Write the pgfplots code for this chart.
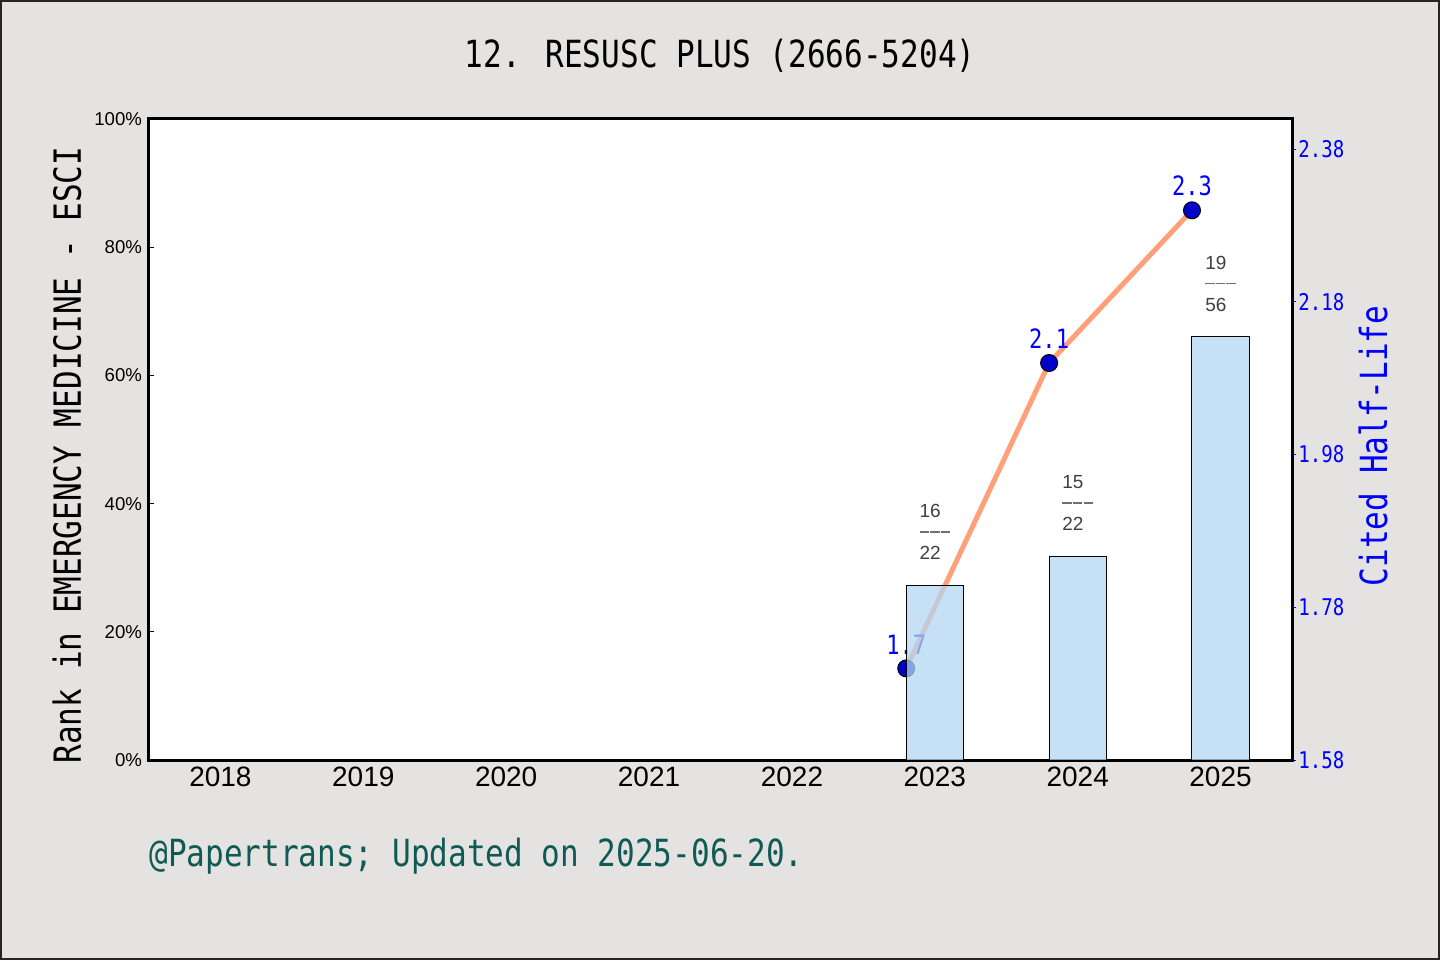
\documentclass[border=0pt]{standalone}
\usepackage{pgfplots}
\pgfplotsset{compat=1.18}
\usepackage{fontspec}
\setmainfont{Liberation Sans}
\newfontfamily\mono[FakeStretch=0.83]{DejaVu Sans Mono}
\definecolor{bg}{HTML}{E4E3E1}
\definecolor{barblue}{RGB}{179,216,244}
\definecolor{linesalmon}{HTML}{FFA07A}
\definecolor{markblue}{HTML}{0000CC}
\definecolor{footer}{HTML}{0F5A55}
\definecolor{rktext}{HTML}{404040}
\definecolor{rkdash}{HTML}{707070}
\protected\def\rkd{\rule[2.8pt]{4.7pt}{0.9pt}}
\protected\def\rk#1#2{#1\\{\color{rkdash}\rkd\kern0.6pt\rkd\kern0.6pt\rkd}\\#2}
\begin{document}
\begin{tikzpicture}
\useasboundingbox (0,0) rectangle (720pt,480pt);
\draw[fill=bg, draw=black!85, line width=0.8pt] (0.4pt,0.4pt) rectangle (719.6pt,479.6pt);
% right axis: cited half-life (drawn first, under the bars)
\begin{axis}[
  at={(74.5pt,100pt)}, anchor=south west,
  scale only axis, width=571.5pt, height=320.5pt,
  xmin=-0.5, xmax=7.5, ymin=1.58, ymax=2.4196,
  axis background/.style={fill=white},
  axis x line=none,
  axis y line*=right,
  axis line style={line width=1.5pt, black},
  ytick={1.58,1.78,1.98,2.18,2.38},
  yticklabels={1.58,1.78,1.98,2.18,2.38},
  tick align=outside,
  major tick length=2pt,
  y tick style={blue, line width=0.5pt},
  yticklabel style={font=\mono\fontsize{11.5}{13}\selectfont, text=blue, inner sep=1pt},
  ylabel={Cited Half-Life},
  every axis y label/.style={at={(axis description cs:1.0709,0.49)}, rotate=90, anchor=center},
  ylabel style={font=\mono\fontsize{18.7}{22}\selectfont, text=blue},
  clip=false,
]
\addplot[color=linesalmon, line width=2.5pt, mark=*, mark size=4.25pt,
  mark options={fill=markblue, draw=black, line width=0.5pt},
  nodes near coords, point meta=explicit symbolic,
  nodes near coords style={anchor=center, yshift=12pt, text=blue, font=\mono\fontsize{13.3}{15}\selectfont}]
  coordinates {(4.8,1.7)[1.7] (5.8,2.1)[2.1] (6.8,2.3)[2.3]};
\end{axis}
% left axis: rank bars
\begin{axis}[
  at={(74.5pt,100pt)}, anchor=south west,
  scale only axis, width=571.5pt, height=320.5pt,
  xmin=-0.5, xmax=7.5, ymin=0, ymax=100,
  axis line style={line width=1.5pt, black},
  tick align=inside,
  xtick={0,1,2,3,4,5,6,7},
  xticklabels={2018,2019,2020,2021,2022,2023,2024,2025},
  xtick pos=bottom,
  x tick style={draw=none},
  minor xtick={0.5,1.5,2.5,3.5,4.5,5.5,6.5},
  minor x tick style={black, line width=0.5pt},
  minor tick length=2.5pt,
  xticklabel style={font=\fontsize{14}{16}\selectfont, inner sep=1pt, yshift=-2.5pt},
  ytick={0,20,40,60,80,100},
  yticklabels={0\%,20\%,40\%,60\%,80\%,100\%},
  ytick pos=left,
  major tick length=2.5pt,
  y tick style={black, line width=0.5pt},
  yticklabel style={font=\fontsize{9.3}{10}\selectfont},
  ylabel={Rank in EMERGENCY MEDICINE - ESCI},
  every axis y label/.style={at={(axis description cs:-0.0717,0.4758)}, rotate=90, anchor=center},
  ylabel style={font=\mono\fontsize{18.7}{22}\selectfont},
  title={12. RESUSC PLUS (2666-5204)},
  every axis title/.style={at={(axis description cs:0.4996,1.0983)}, anchor=center},
  title style={font=\mono\fontsize{18.7}{22}\selectfont},
  clip=false,
]
\addplot[ybar, bar width=0.4, bar shift=0pt, fill=barblue, fill opacity=0.75, draw=black, line width=0.5pt]
  coordinates {(5,27.27) (6,31.82) (7,66.07)};
\addplot[draw=none, mark=none, nodes near coords, point meta=explicit symbolic,
  nodes near coords style={anchor=center, yshift=26.5pt, align=left, text=rktext, font=\fontsize{9.5}{10.5}\selectfont}]
  coordinates {(5,27.27)[\rk{16}{22}] (6,31.82)[\rk{15}{22}] (7,66.07)[\rk{19}{56}]};
\end{axis}
\node[anchor=base west, text=footer, font=\mono\fontsize{18.7}{22}\selectfont, inner sep=0pt] at (74.5pt,47pt) {@Papertrans; Updated on 2025-06-20.};
\end{tikzpicture}
\end{document}
